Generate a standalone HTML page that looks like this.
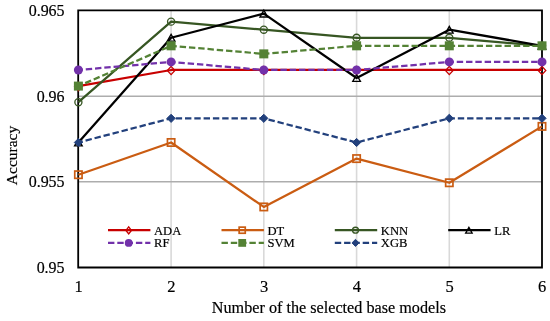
<!DOCTYPE html>
<html><head><meta charset="utf-8"><title>Accuracy chart</title>
<style>html,body{margin:0;padding:0;background:#fff;width:550px;height:321px;overflow:hidden}
svg{display:block;font-family:"Liberation Serif","Times New Roman",serif;fill:#000}
svg text{fill:#000;stroke:#000;stroke-width:0.18px}</style></head>
<body>
<svg width="550" height="321" viewBox="0 0 550 321">
<rect width="550" height="321" fill="#fff"/>
<line x1="171.1" y1="10.4" x2="171.1" y2="267.5" stroke="#D9D9D9" stroke-width="1.6"/>
<line x1="263.8" y1="10.4" x2="263.8" y2="267.5" stroke="#D9D9D9" stroke-width="1.6"/>
<line x1="356.6" y1="10.4" x2="356.6" y2="267.5" stroke="#D9D9D9" stroke-width="1.6"/>
<line x1="449.3" y1="10.4" x2="449.3" y2="267.5" stroke="#D9D9D9" stroke-width="1.6"/>
<line x1="78.2" y1="96.2" x2="542.0" y2="96.2" stroke="#ADADAD" stroke-width="1.5"/>
<line x1="78.2" y1="181.8" x2="542.0" y2="181.8" stroke="#ADADAD" stroke-width="1.5"/>
<path d="M78.2 10.4H542.0V267.5H78.2Z" fill="none" stroke="#000" stroke-width="1.8"/>
<polyline points="78.40,86.10 171.10,69.99 263.80,69.99 356.60,69.99 449.30,69.99 542.00,69.99" fill="none" stroke="#C80000" stroke-width="2.25" stroke-linejoin="round"/>
<path d="M78.40 82.50L82.20 86.60L78.40 90.70L74.60 86.60Z" fill="none" stroke="#C80000" stroke-width="1.3"/>
<path d="M171.10 66.39L174.90 70.49L171.10 74.59L167.30 70.49Z" fill="none" stroke="#C80000" stroke-width="1.3"/>
<path d="M263.80 66.39L267.60 70.49L263.80 74.59L260.00 70.49Z" fill="none" stroke="#C80000" stroke-width="1.3"/>
<path d="M356.60 66.39L360.40 70.49L356.60 74.59L352.80 70.49Z" fill="none" stroke="#C80000" stroke-width="1.3"/>
<path d="M449.30 66.39L453.10 70.49L449.30 74.59L445.50 70.49Z" fill="none" stroke="#C80000" stroke-width="1.3"/>
<path d="M542.00 66.39L545.80 70.49L542.00 74.59L538.20 70.49Z" fill="none" stroke="#C80000" stroke-width="1.3"/>
<polyline points="78.40,174.71 171.10,142.49 263.80,206.94 356.60,158.60 449.30,182.77 542.00,126.38" fill="none" stroke="#CA5C12" stroke-width="2.25" stroke-linejoin="round"/>
<rect x="74.75" y="171.06" width="7.30" height="7.30" fill="none" stroke="#CA5C12" stroke-width="1.7"/>
<rect x="167.45" y="138.84" width="7.30" height="7.30" fill="none" stroke="#CA5C12" stroke-width="1.7"/>
<rect x="260.15" y="203.29" width="7.30" height="7.30" fill="none" stroke="#CA5C12" stroke-width="1.7"/>
<rect x="352.95" y="154.95" width="7.30" height="7.30" fill="none" stroke="#CA5C12" stroke-width="1.7"/>
<rect x="445.65" y="179.12" width="7.30" height="7.30" fill="none" stroke="#CA5C12" stroke-width="1.7"/>
<rect x="538.35" y="122.73" width="7.30" height="7.30" fill="none" stroke="#CA5C12" stroke-width="1.7"/>
<polyline points="78.40,102.21 171.10,21.65 263.80,29.71 356.60,37.76 449.30,37.76 542.00,45.82" fill="none" stroke="#375623" stroke-width="2.25" stroke-linejoin="round"/>
<circle cx="78.40" cy="102.21" r="3.53" fill="none" stroke="#375623" stroke-width="1.35"/>
<circle cx="171.10" cy="21.65" r="3.53" fill="none" stroke="#375623" stroke-width="1.35"/>
<circle cx="263.80" cy="29.71" r="3.53" fill="none" stroke="#375623" stroke-width="1.35"/>
<circle cx="356.60" cy="37.76" r="3.53" fill="none" stroke="#375623" stroke-width="1.35"/>
<circle cx="449.30" cy="37.76" r="3.53" fill="none" stroke="#375623" stroke-width="1.35"/>
<circle cx="542.00" cy="45.82" r="3.53" fill="none" stroke="#375623" stroke-width="1.35"/>
<polyline points="78.40,142.49 171.10,37.76 263.80,13.59 356.60,78.04 449.30,29.71 542.00,45.82" fill="none" stroke="#000000" stroke-width="2.25" stroke-linejoin="round"/>
<path d="M78.40 139.09L82.25 145.89L74.55 145.89Z" fill="none" stroke="#000000" stroke-width="1.3" stroke-linejoin="miter"/>
<path d="M171.10 34.36L174.95 41.16L167.25 41.16Z" fill="none" stroke="#000000" stroke-width="1.3" stroke-linejoin="miter"/>
<path d="M263.80 10.19L267.65 16.99L259.95 16.99Z" fill="none" stroke="#000000" stroke-width="1.3" stroke-linejoin="miter"/>
<path d="M356.60 74.64L360.45 81.44L352.75 81.44Z" fill="none" stroke="#000000" stroke-width="1.3" stroke-linejoin="miter"/>
<path d="M449.30 26.31L453.15 33.11L445.45 33.11Z" fill="none" stroke="#000000" stroke-width="1.3" stroke-linejoin="miter"/>
<path d="M542.00 42.42L545.85 49.22L538.15 49.22Z" fill="none" stroke="#000000" stroke-width="1.3" stroke-linejoin="miter"/>
<polyline points="78.40,69.99 171.10,61.93 263.80,69.99 356.60,69.99 449.30,61.93 542.00,61.93" fill="none" stroke="#7231AA" stroke-width="2.25" stroke-linejoin="round" stroke-dasharray="6.4 2.9" stroke-dashoffset="1.9"/>
<circle cx="78.40" cy="69.99" r="4.50" fill="#7231AA"/>
<circle cx="171.10" cy="61.93" r="4.50" fill="#7231AA"/>
<circle cx="263.80" cy="69.99" r="4.50" fill="#7231AA"/>
<circle cx="356.60" cy="69.99" r="4.50" fill="#7231AA"/>
<circle cx="449.30" cy="61.93" r="4.50" fill="#7231AA"/>
<circle cx="542.00" cy="61.93" r="4.50" fill="#7231AA"/>
<polyline points="78.40,86.10 171.10,45.82 263.80,53.87 356.60,45.82 449.30,45.82 542.00,45.82" fill="none" stroke="#548235" stroke-width="2.25" stroke-linejoin="round" stroke-dasharray="6.4 2.9" stroke-dashoffset="1.9"/>
<rect x="73.90" y="81.60" width="9.00" height="9.00" fill="#548235"/>
<rect x="166.60" y="41.32" width="9.00" height="9.00" fill="#548235"/>
<rect x="259.30" y="49.37" width="9.00" height="9.00" fill="#548235"/>
<rect x="352.10" y="41.32" width="9.00" height="9.00" fill="#548235"/>
<rect x="444.80" y="41.32" width="9.00" height="9.00" fill="#548235"/>
<rect x="537.50" y="41.32" width="9.00" height="9.00" fill="#548235"/>
<polyline points="78.40,142.49 171.10,118.32 263.80,118.32 356.60,142.49 449.30,118.32 542.00,118.32" fill="none" stroke="#22407C" stroke-width="2.25" stroke-linejoin="round" stroke-dasharray="6.4 2.9" stroke-dashoffset="1.9"/>
<path d="M78.40 138.39L82.50 142.49L78.40 146.59L74.30 142.49Z" fill="#22407C" stroke="#22407C" stroke-width="1.0" stroke-linejoin="round"/>
<path d="M171.10 114.22L175.20 118.32L171.10 122.42L167.00 118.32Z" fill="#22407C" stroke="#22407C" stroke-width="1.0" stroke-linejoin="round"/>
<path d="M263.80 114.22L267.90 118.32L263.80 122.42L259.70 118.32Z" fill="#22407C" stroke="#22407C" stroke-width="1.0" stroke-linejoin="round"/>
<path d="M356.60 138.39L360.70 142.49L356.60 146.59L352.50 142.49Z" fill="#22407C" stroke="#22407C" stroke-width="1.0" stroke-linejoin="round"/>
<path d="M449.30 114.22L453.40 118.32L449.30 122.42L445.20 118.32Z" fill="#22407C" stroke="#22407C" stroke-width="1.0" stroke-linejoin="round"/>
<path d="M542.00 114.22L546.10 118.32L542.00 122.42L537.90 118.32Z" fill="#22407C" stroke="#22407C" stroke-width="1.0" stroke-linejoin="round"/>
<line x1="108.0" y1="230.2" x2="150.4" y2="230.2" stroke="#C80000" stroke-width="2.25"/>
<path d="M128.70 226.90L131.40 230.40L128.70 233.90L126.00 230.40Z" fill="none" stroke="#C80000" stroke-width="1.4"/>
<text transform="translate(154.00,234.50) scale(1,1.06)" font-size="12.6">ADA</text>
<line x1="221.5" y1="230.2" x2="263.9" y2="230.2" stroke="#CA5C12" stroke-width="2.25"/>
<rect x="239.15" y="227.15" width="6.10" height="6.10" fill="none" stroke="#CA5C12" stroke-width="1.7"/>
<text transform="translate(267.50,234.50) scale(1,1.06)" font-size="12.6">DT</text>
<line x1="334.8" y1="230.2" x2="377.2" y2="230.2" stroke="#375623" stroke-width="2.25"/>
<circle cx="355.50" cy="230.20" r="2.96" fill="none" stroke="#375623" stroke-width="1.35"/>
<text transform="translate(380.80,234.50) scale(1,1.06)" font-size="12.6">KNN</text>
<line x1="448.2" y1="230.2" x2="490.59999999999997" y2="230.2" stroke="#000000" stroke-width="2.25"/>
<path d="M468.90 227.34L472.15 233.06L465.65 233.06Z" fill="none" stroke="#000000" stroke-width="1.3" stroke-linejoin="miter"/>
<text transform="translate(494.20,234.50) scale(1,1.06)" font-size="12.6">LR</text>
<line x1="108.0" y1="242.9" x2="150.4" y2="242.9" stroke="#7231AA" stroke-width="2.25" stroke-dasharray="6.4 2.9"/>
<circle cx="128.70" cy="242.90" r="3.90" fill="#7231AA"/>
<text transform="translate(154.00,247.20) scale(1,1.06)" font-size="12.6">RF</text>
<line x1="221.5" y1="242.9" x2="263.9" y2="242.9" stroke="#548235" stroke-width="2.25" stroke-dasharray="6.4 2.9"/>
<rect x="238.30" y="239.00" width="7.80" height="7.80" fill="#548235"/>
<text transform="translate(267.50,247.20) scale(1,1.06)" font-size="12.6">SVM</text>
<line x1="334.8" y1="242.9" x2="377.2" y2="242.9" stroke="#22407C" stroke-width="2.25" stroke-dasharray="6.4 2.9"/>
<path d="M355.50 239.35L359.05 242.90L355.50 246.45L351.95 242.90Z" fill="#22407C" stroke="#22407C" stroke-width="1.0" stroke-linejoin="round"/>
<text transform="translate(380.80,247.20) scale(1,1.06)" font-size="12.6">XGB</text>
<text transform="translate(64.6,15.85) scale(1,1.07)" font-size="16.0" text-anchor="end">0.965</text>
<text transform="translate(64.6,101.55) scale(1,1.07)" font-size="16.0" text-anchor="end">0.96</text>
<text transform="translate(64.6,187.15) scale(1,1.07)" font-size="16.0" text-anchor="end">0.955</text>
<text transform="translate(64.6,272.85) scale(1,1.07)" font-size="16.0" text-anchor="end">0.95</text>
<text transform="translate(78.60,291.8) scale(1,1.07)" font-size="16.5" text-anchor="middle">1</text>
<text transform="translate(171.30,291.8) scale(1,1.07)" font-size="16.5" text-anchor="middle">2</text>
<text transform="translate(264.00,291.8) scale(1,1.07)" font-size="16.5" text-anchor="middle">3</text>
<text transform="translate(356.80,291.8) scale(1,1.07)" font-size="16.5" text-anchor="middle">4</text>
<text transform="translate(449.50,291.8) scale(1,1.07)" font-size="16.5" text-anchor="middle">5</text>
<text transform="translate(542.20,291.8) scale(1,1.07)" font-size="16.5" text-anchor="middle">6</text>
<text transform="translate(328.9,313.3) scale(1,1.07)" font-size="16.2" text-anchor="middle">Number of the selected base models</text>
<text transform="translate(17,155.5) rotate(-90)" font-size="15.5" text-anchor="middle">Accuracy</text>
</svg>
</body></html>
